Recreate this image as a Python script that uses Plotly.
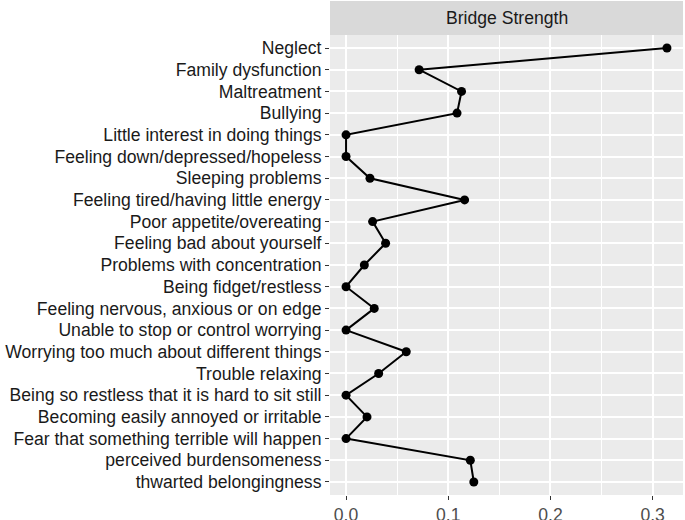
import plotly.graph_objects as go

# node labels, top to bottom
nodes = [
    "Neglect", "Family dysfunction", "Maltreatment", "Bullying",
    "Little interest in doing things", "Feeling down/depressed/hopeless",
    "Sleeping problems", "Feeling tired/having little energy",
    "Poor appetite/overeating", "Feeling bad about yourself",
    "Problems with concentration", "Being fidget/restless",
    "Feeling nervous, anxious or on edge", "Unable to stop or control worrying",
    "Worrying too much about different things", "Trouble relaxing",
    "Being so restless that it is hard to sit still",
    "Becoming easily annoyed or irritable",
    "Fear that something terrible will happen",
    "perceived burdensomeness", "thwarted belongingness",
]
bridge_strength = [
    0.314, 0.0715, 0.113, 0.1086,
    0.0, 0.0, 0.0234, 0.116,
    0.026, 0.0387, 0.0179, 0.0,
    0.0276, 0.0, 0.0589, 0.0319,
    0.0, 0.0205, 0.0, 0.1216, 0.125,
]
x_ticks = [0.0, 0.1, 0.2, 0.3]
x_ticklabels = ["0.0", "0.1", "0.2", "0.3"]
strip_title = "Bridge Strength"

font_family = "Liberation Sans, Arial, sans-serif"
txt_size = 17.6

fig = go.Figure()
fig.add_trace(go.Scatter(
    x=bridge_strength,
    y=nodes,
    mode="lines+markers",
    line=dict(color="black", width=2),
    marker=dict(color="black", size=9),
    showlegend=False,
))

# x range with ggplot-like 5% expansion
lo, hi = min(bridge_strength), max(bridge_strength)
pad = (hi - lo) * 0.05

fig.update_layout(
    width=685,
    height=520,
    margin=dict(l=330, r=2, t=35, b=25, autoexpand=False),
    paper_bgcolor="white",
    plot_bgcolor="#EBEBEB",
    font=dict(family=font_family, color="black"),
    xaxis=dict(
        range=[lo - pad, hi + pad],
        tickvals=x_ticks,
        ticktext=x_ticklabels,
        showgrid=True,
        gridcolor="white",
        gridwidth=1.6,
        zeroline=False,
        ticks="outside",
        ticklen=4,
        tickwidth=1.2,
        tickcolor="#333333",
        tickfont=dict(size=txt_size, color="#4D4D4D"),
        minor=dict(dtick=0.05, tick0=0, showgrid=True,
                   gridcolor="white", gridwidth=0.8),
        showline=False,
    ),
    yaxis=dict(
        type="category",
        categoryorder="array",
        categoryarray=nodes,
        range=[len(nodes) - 0.4, -0.6],
        showgrid=True,
        gridcolor="white",
        gridwidth=1.6,
        zeroline=False,
        ticks="outside",
        ticklen=4,
        tickwidth=1.2,
        tickcolor="#333333",
        tickfont=dict(size=txt_size, color="#1A1A1A"),
        showline=False,
    ),
)

# facet strip
fig.add_shape(
    type="rect", xref="paper", yref="paper",
    x0=0, x1=1, y0=1.0, y1=1 + 34 / 460,
    fillcolor="#D9D9D9", line=dict(width=0), layer="below",
)
fig.add_annotation(
    text=strip_title, xref="paper", yref="paper",
    x=0.5, y=1 + 17 / 460, xanchor="center", yanchor="middle",
    showarrow=False, font=dict(size=txt_size, color="#1A1A1A", family=font_family),
)

fig.write_html("out.html", config={"displayModeBar": False},
               post_script="document.body.style.margin='0px';")
